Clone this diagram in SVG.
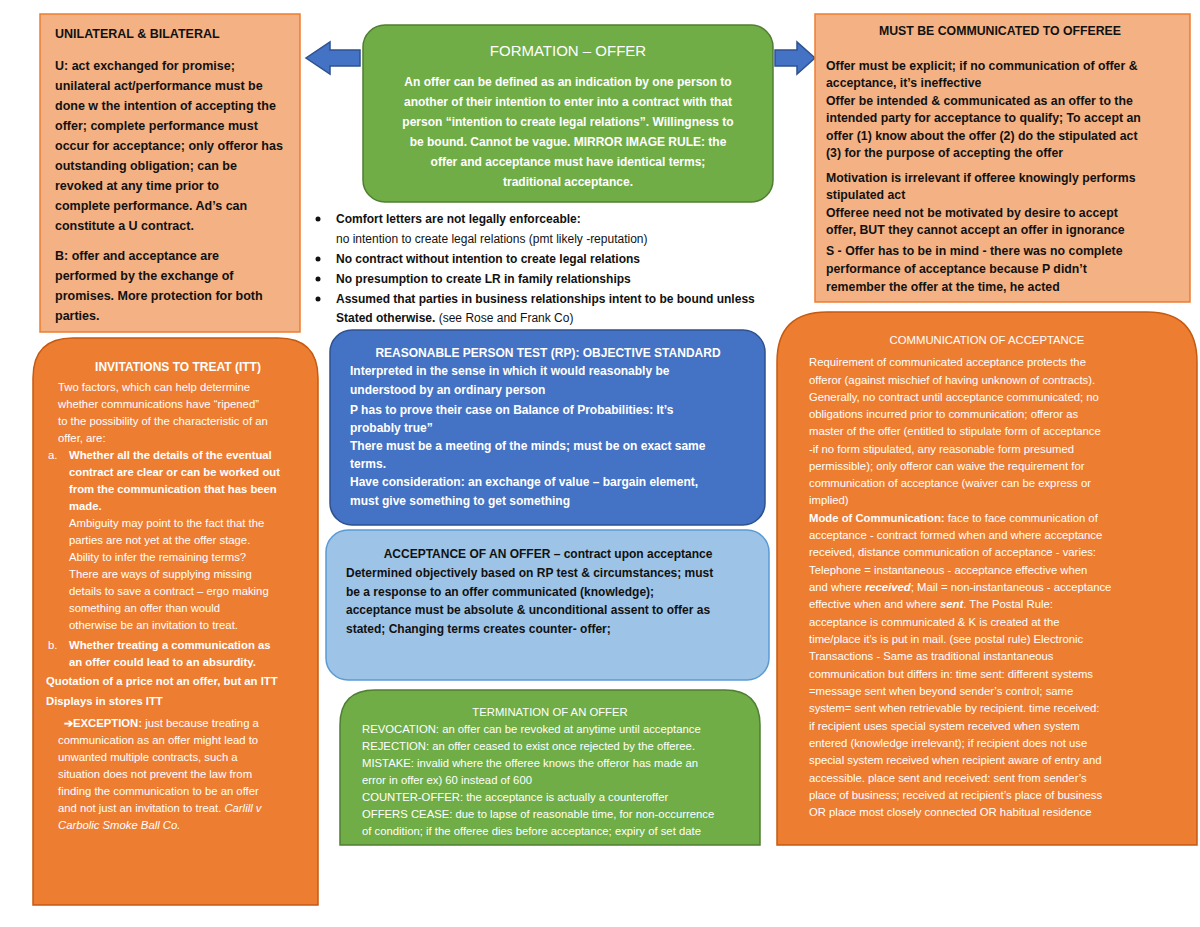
<svg xmlns="http://www.w3.org/2000/svg" width="1200" height="927" viewBox="0 0 1200 927">
<style>
text{font-family:"Liberation Sans",Arial,sans-serif}
.s{fill:#f4b183;stroke:#ed7d31;stroke-width:1.5}
.o{fill:#ed7d31;stroke:#c55a11;stroke-width:1.5}
.g{fill:#70ad47;stroke:#507e32;stroke-width:1.5}
.b{fill:#4472c4;stroke:#2f528f;stroke-width:1.5}
.lb{fill:#9dc3e6;stroke:#5b9bd5;stroke-width:1.5}
.ar{fill:#4472c4;stroke:#2f528f;stroke-width:1.5}
.dk{fill:#111;font-size:12.5px;font-weight:bold}
.wt{fill:#fff;font-size:11.3px}
.wb{fill:#fff;font-size:12px;font-weight:bold}
.bl{fill:#111;font-size:12px}
</style>
<rect width="1200" height="927" fill="#fff"/>
<g id="connectors">
<path class="ar" d="M360,50 L330,50 L330,42 L306,58 L330,74 L330,66 L360,66 Z"/>
<path class="ar" d="M775,50 L797,50 L797,42 L815,58 L797,74 L797,66 L775,66 Z"/>
</g>
<g id="unilateral">
<rect class="s" x="40" y="14" width="260" height="318"/>
<text class="dk" x="55" y="38">UNILATERAL &amp; BILATERAL</text>
<text class="dk" x="55" y="70">U: act exchanged for promise;</text>
<text class="dk" x="55" y="90">unilateral act/performance must be</text>
<text class="dk" x="55" y="110">done w the intention of accepting the</text>
<text class="dk" x="55" y="130">offer; complete performance must</text>
<text class="dk" x="55" y="150">occur for acceptance; only offeror has</text>
<text class="dk" x="55" y="170">outstanding obligation; can be</text>
<text class="dk" x="55" y="190">revoked at any time prior to</text>
<text class="dk" x="55" y="210">complete performance. Ad’s can</text>
<text class="dk" x="55" y="230">constitute a U contract.</text>
<text class="dk" x="55" y="260">B: offer and acceptance are</text>
<text class="dk" x="55" y="280">performed by the exchange of</text>
<text class="dk" x="55" y="300">promises. More protection for both</text>
<text class="dk" x="55" y="320">parties.</text>
</g>
<g id="formation">
<rect class="g" x="363" y="25" width="410" height="177" rx="22"/>
<text x="568" y="56" fill="#fff" font-size="15" text-anchor="middle">FORMATION – OFFER</text>
<g class="wb" text-anchor="middle" style="font-size:12px">
<text x="568" y="86">An offer can be defined as an indication by one person to</text>
<text x="568" y="106">another of their intention to enter into a contract with that</text>
<text x="568" y="126">person “intention to create legal relations”. Willingness to</text>
<text x="568" y="146">be bound. Cannot be vague. MIRROR IMAGE RULE: the</text>
<text x="568" y="166">offer and acceptance must have identical terms;</text>
<text x="568" y="186">traditional acceptance.</text>
</g>
</g>
<g id="comfort">
<g fill="#111"><circle cx="318" cy="219" r="2.5"/><circle cx="318" cy="259" r="2.5"/><circle cx="318" cy="279" r="2.5"/><circle cx="318" cy="299" r="2.5"/></g>
<g class="dk" style="font-size:12px">
<text x="336" y="223">Comfort letters are not legally enforceable:</text>
<text x="336" y="243" font-weight="normal">no intention to create legal relations (pmt likely -reputation)</text>
<text x="336" y="263">No contract without intention to create legal relations</text>
<text x="336" y="283">No presumption to create LR in family relationships</text>
<text x="336" y="303">Assumed that parties in business relationships intent to be bound unless</text>
<text x="336" y="322">Stated otherwise. <tspan font-weight="normal">(see Rose and Frank Co)</tspan></text>
</g>
</g>
<g id="communicated">
<rect class="s" x="815" y="14" width="375" height="288"/>
<g class="dk" style="font-size:12.3px">
<text x="1000" y="35" text-anchor="middle" font-weight="bold">MUST BE COMMUNICATED TO OFFEREE</text>
<text x="826" y="70">Offer must be explicit; if no communication of offer &amp;</text>
<text x="826" y="87">acceptance, it’s ineffective</text>
<text x="826" y="105">Offer be intended &amp; communicated as an offer to the</text>
<text x="826" y="122">intended party for acceptance to qualify; To accept an</text>
<text x="826" y="140">offer (1) know about the offer (2) do the stipulated act</text>
<text x="826" y="157">(3) for the purpose of accepting the offer</text>
<text x="826" y="182">Motivation is irrelevant if offeree knowingly performs</text>
<text x="826" y="199">stipulated act</text>
<text x="826" y="217">Offeree need not be motivated by desire to accept</text>
<text x="826" y="234">offer, BUT they cannot accept an offer in ignorance</text>
<text x="826" y="255">S - Offer has to be in mind - there was no complete</text>
<text x="826" y="273">performance of acceptance because P didn’t</text>
<text x="826" y="291">remember the offer at the time, he acted</text>
</g>
</g>
<g id="itt">
<path class="o" d="M33,905 L33,378 Q33,338 73,338 L278,338 Q318,338 318,378 L318,905 Z"/>
<text class="wb" x="178" y="371" text-anchor="middle">INVITATIONS TO TREAT (ITT)</text>
<g class="wt">
<text x="58" y="391">Two factors, which can help determine</text>
<text x="58" y="408">whether communications have “ripened”</text>
<text x="58" y="425">to the possibility of the characteristic of an</text>
<text x="58" y="442">offer, are:</text>
<text x="48" y="459">a.</text>
<text x="69" y="459" font-weight="bold">Whether all the details of the eventual</text>
<text x="69" y="476" font-weight="bold">contract are clear or can be worked out</text>
<text x="69" y="493" font-weight="bold">from the communication that has been</text>
<text x="69" y="510" font-weight="bold">made.</text>
<text x="69" y="527">Ambiguity may point to the fact that the</text>
<text x="69" y="544">parties are not yet at the offer stage.</text>
<text x="69" y="561">Ability to infer the remaining terms?</text>
<text x="69" y="578">There are ways of supplying missing</text>
<text x="69" y="595">details to save a contract – ergo making</text>
<text x="69" y="612">something an offer than would</text>
<text x="69" y="629">otherwise be an invitation to treat.</text>
<text x="48" y="649">b.</text>
<text x="69" y="649" font-weight="bold">Whether treating a communication as</text>
<text x="69" y="666" font-weight="bold">an offer could lead to an absurdity.</text>
<text x="46" y="685" font-weight="bold">Quotation of a price not an offer, but an ITT</text>
<text x="46" y="705" font-weight="bold">Displays in stores ITT</text>
<text x="64" y="727"><tspan font-weight="bold">➔EXCEPTION:</tspan> just because treating a</text>
<text x="58" y="744">communication as an offer might lead to</text>
<text x="58" y="761">unwanted multiple contracts, such a</text>
<text x="58" y="778">situation does not prevent the law from</text>
<text x="58" y="795">finding the communication to be an offer</text>
<text x="58" y="812">and not just an invitation to treat. <tspan font-style="italic">Carlill v</tspan></text>
<text x="58" y="829" font-style="italic">Carbolic Smoke Ball Co.</text>
</g>
</g>
<g id="rp">
<rect class="b" x="330" y="330" width="435" height="195" rx="22"/>
<g class="wb">
<text x="548" y="357" text-anchor="middle">REASONABLE PERSON TEST (RP): OBJECTIVE STANDARD</text>
<text x="350" y="375">Interpreted in the sense in which it would reasonably be</text>
<text x="350" y="394">understood by an ordinary person</text>
<text x="350" y="414">P has to prove their case on Balance of Probabilities: It’s</text>
<text x="350" y="432">probably true”</text>
<text x="350" y="450">There must be a meeting of the minds; must be on exact same</text>
<text x="350" y="468">terms.</text>
<text x="350" y="486">Have consideration: an exchange of value – bargain element,</text>
<text x="350" y="505">must give something to get something</text>
</g>
</g>
<g id="acceptance">
<rect class="lb" x="326" y="530" width="443" height="150" rx="22"/>
<g class="dk" style="font-size:12px">
<text x="548" y="558" text-anchor="middle">ACCEPTANCE OF AN OFFER – contract upon acceptance</text>
<text x="346" y="577">Determined objectively based on RP test &amp; circumstances; must</text>
<text x="346" y="596">be a response to an offer communicated (knowledge);</text>
<text x="346" y="614">acceptance must be absolute &amp; unconditional assent to offer as</text>
<text x="346" y="633">stated; Changing terms creates counter- offer;</text>
</g>
</g>
<g id="termination">
<path class="g" d="M340,845 L340,725 Q340,690 375,690 L725,690 Q760,690 760,725 L760,845 Z"/>
<g class="wt">
<text x="550" y="716" text-anchor="middle">TERMINATION OF AN OFFER</text>
<text x="362" y="733">REVOCATION: an offer can be revoked at anytime until acceptance</text>
<text x="362" y="750">REJECTION: an offer ceased to exist once rejected by the offeree.</text>
<text x="362" y="767">MISTAKE: invalid where the offeree knows the offeror has made an</text>
<text x="362" y="784">error in offer ex) 60 instead of 600</text>
<text x="362" y="801">COUNTER-OFFER: the acceptance is actually a counteroffer</text>
<text x="362" y="818">OFFERS CEASE: due to lapse of reasonable time, for non-occurrence</text>
<text x="362" y="835">of condition; if the offeree dies before acceptance; expiry of set date</text>
</g>
</g>
<g id="communication">
<path class="o" d="M777,845 L777,362 Q777,312 827,312 L1147,312 Q1197,312 1197,362 L1197,845 Z"/>
<g class="wt">
<text x="987" y="344" text-anchor="middle">COMMUNICATION OF ACCEPTANCE</text>
<text x="809" y="366">Requirement of communicated acceptance protects the</text>
<text x="809" y="384">offeror (against mischief of having unknown of contracts).</text>
<text x="809" y="401">Generally, no contract until acceptance communicated; no</text>
<text x="809" y="418">obligations incurred prior to communication; offeror as</text>
<text x="809" y="435">master of the offer (entitled to stipulate form of acceptance</text>
<text x="809" y="453">-if no form stipulated, any reasonable form presumed</text>
<text x="809" y="470">permissible); only offeror can waive the requirement for</text>
<text x="809" y="487">communication of acceptance (waiver can be express or</text>
<text x="809" y="504">implied)</text>
<text x="809" y="522"><tspan font-weight="bold">Mode of Communication:</tspan> face to face communication of</text>
<text x="809" y="539">acceptance - contract formed when and where acceptance</text>
<text x="809" y="556">received, distance communication of acceptance - varies:</text>
<text x="809" y="574">Telephone = instantaneous - acceptance effective when</text>
<text x="809" y="591">and where <tspan font-weight="bold" font-style="italic">received</tspan>; Mail = non-instantaneous - acceptance</text>
<text x="809" y="608">effective when and where <tspan font-weight="bold" font-style="italic">sent</tspan>. The Postal Rule:</text>
<text x="809" y="626">acceptance is communicated &amp; K is created at the</text>
<text x="809" y="643">time/place it’s is put in mail. (see postal rule) Electronic</text>
<text x="809" y="660">Transactions - Same as traditional instantaneous</text>
<text x="809" y="678">communication but differs in: time sent: different systems</text>
<text x="809" y="695">=message sent when beyond sender’s control; same</text>
<text x="809" y="712">system= sent when retrievable by recipient. time received:</text>
<text x="809" y="730">if recipient uses special system received when system</text>
<text x="809" y="747">entered (knowledge irrelevant); if recipient does not use</text>
<text x="809" y="764">special system received when recipient aware of entry and</text>
<text x="809" y="782">accessible. place sent and received: sent from sender’s</text>
<text x="809" y="799">place of business; received at recipient’s place of business</text>
<text x="809" y="816">OR place most closely connected OR habitual residence</text>
</g>
</g>
</svg>
